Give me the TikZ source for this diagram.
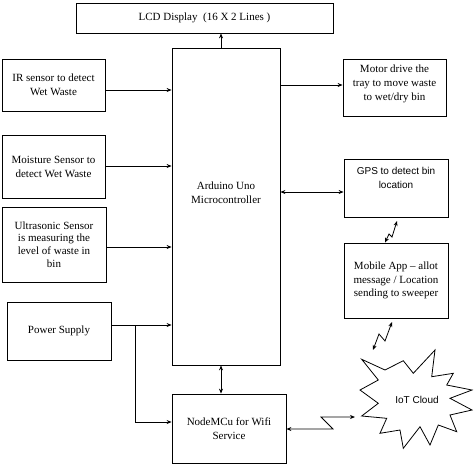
\documentclass[tikz,border=0pt]{standalone}
\usepackage{fontspec}
\setmainfont{Liberation Serif}
\newfontfamily\arialfont{Liberation Sans}
\usetikzlibrary{arrows.meta}
\tikzset{
  box/.style={draw, line width=0.8pt, inner sep=0pt, align=center, font=\fontsize{11}{14}\selectfont},
  sbox/.style={box, font=\arialfont\fontsize{10}{14}\selectfont},
  txt/.style={inner sep=0pt, align=center, font=\fontsize{11}{14}\selectfont},
  conn/.style={line width=0.8pt, >={Stealth[length=5pt,width=4pt]}},
}
\begin{document}
\begin{tikzpicture}[x=1pt,y=-1pt]
\useasboundingbox (0,0) rectangle (474,467);
% boxes
\node[box, minimum width=257pt, minimum height=30pt] (lcd) at (204.5,18) {LCD Display~~(16 X 2 Lines )};
\node[box, minimum width=108pt, minimum height=317pt] (ard) at (226,206.5) {};
\node[txt] (ardlbl) at (226,193) {Arduino Uno\\Microcontroller};
\node[box, minimum width=103pt, minimum height=52pt] (ir) at (53.5,85) {IR sensor to detect\\Wet Waste};
\node[box, minimum width=103pt, minimum height=63pt] (moist) at (53.5,166.5) {Moisture Sensor to\\detect Wet Waste};
\node[box, minimum width=104pt, minimum height=75pt, font=\fontsize{11}{12.8}\selectfont] (ultra) at (54,244.5) {Ultrasonic Sensor\\is measuring the\\level of waste in\\bin};
\node[box, minimum width=104pt, minimum height=58pt] (pow) at (59,331) {Power Supply};
\node[box, minimum width=114pt, minimum height=69pt] (nmcu) at (229,428.5) {NodeMCu for Wifi\\Service};
\node[box, minimum width=103pt, minimum height=57pt, text depth=9pt] (motor) at (394.5,87.5) {Motor drive the\\tray to move waste\\to wet/dry bin};
\node[sbox, minimum width=104pt, minimum height=58pt, text depth=20pt] (gps) at (396,188) {GPS to detect bin\\location};
\node[box, minimum width=104pt, minimum height=75pt, font=\fontsize{11}{13.5}\selectfont] (mob) at (396,280.5) {Mobile App -- allot\\message / Location\\sending to sweeper};
% IoT cloud starburst
\draw[line width=0.8pt] (361.7,359.3) -- (385,370) -- (403.3,360.7) -- (413.3,373.3) -- (435,350)
  -- (431.7,376.7) -- (453.3,373.3) -- (446.7,385) -- (472,390) -- (450,398.3) -- (472,410)
  -- (450,415) -- (456.7,431.7) -- (438.3,425) -- (430,445) -- (420,426.7) -- (403.3,448.3)
  -- (400,430) -- (380,433.3) -- (386.7,418.3) -- (361.7,416) -- (378.3,403.3) -- (360,390)
  -- (378.3,380) -- cycle;
\node[inner sep=0pt, font=\arialfont\fontsize{10}{12}\selectfont] (cloud) at (417,400) {IoT Cloud};
\coordinate (cloudW) at (355,417);
\coordinate (cloudN) at (373,350);
% connectors
\draw[conn,->] (ard.north -| 221,0) -- (lcd.south -| 221,0);
\draw[conn,->] (ir.east |- 0,90) -- (ard.west |- 0,90);
\draw[conn,->] (moist.east |- 0,166) -- (ard.west |- 0,166);
\draw[conn,->] (ultra.east |- 0,247) -- (ard.west |- 0,247);
\coordinate (pbr) at (135,325);
\draw[conn,->] (pow.east |- pbr) -- (ard.west |- pbr);
\draw[conn,->] (pbr) -- (135,422) -- (nmcu.west |- 0,422);
\draw[conn,->] (ard.east |- 0,85) -- (motor.west |- 0,85);
\draw[conn,<->] (ard.east |- 0,192) -- (gps.west |- 0,192);
\draw[conn,<->] (ard.south -| 221,0) -- (nmcu.north -| 221,0);
% lightning links
\draw[conn,<->] (mob.north -| 385,0) -- (389,234) -- (392,237) -- (397,221);
\draw[conn,<->] (392,322) -- (385,341) -- (379,334) -- (cloudN);
\draw[conn,<->] (nmcu.east |- 0,429) -- (333,429) -- (321,417) -- (cloudW);
\end{tikzpicture}
\end{document}
